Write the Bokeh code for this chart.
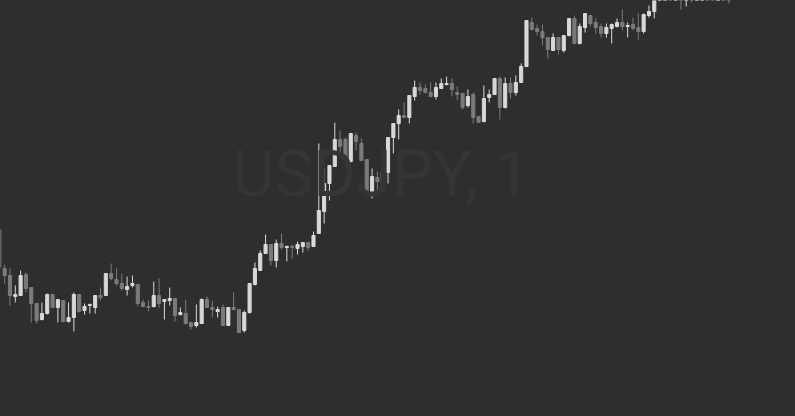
from bokeh.plotting import figure
from bokeh.models import Range1d, Label, ColumnDataSource
from bokeh.embed import file_html
from bokeh.resources import INLINE

# USDJPY 1-minute candles (prices)
open_ = [151.771, 151.732, 151.725, 151.704, 151.705, 151.726, 151.713, 151.697, 151.681, 151.687,
         151.706, 151.693, 151.700, 151.679, 151.683, 151.706, 151.690, 151.695, 151.693, 151.705,
         151.705, 151.727, 151.721, 151.717, 151.711, 151.715, 151.716, 151.698, 151.694, 151.694,
         151.705, 151.699, 151.700, 151.702, 151.686, 151.687, 151.678, 151.675, 151.677, 151.701,
         151.693, 151.689, 151.693, 151.675, 151.693, 151.691, 151.670, 151.688, 151.716, 151.730,
         151.747, 151.756, 151.740, 151.757, 151.753, 151.754, 151.752, 151.754, 151.758, 151.754,
         151.767, 151.789, 151.817, 151.834, 151.861, 151.861, 151.839, 151.865, 151.857, 151.841,
         151.808, 151.823, 151.818, 151.828, 151.863, 151.877, 151.885, 151.883, 151.904, 151.913,
         151.912, 151.908, 151.904, 151.912, 151.916, 151.917, 151.908, 151.907, 151.895, 151.906,
         151.884, 151.879, 151.903, 151.906, 151.922, 151.893, 151.917, 151.908, 151.918, 151.934,
         151.978, 151.972, 151.969, 151.963, 151.950, 151.963, 151.950, 151.965, 151.982, 151.957,
         151.973, 151.985, 151.978, 151.974, 151.967, 151.972, 151.974, 151.978, 151.974, 151.976,
         151.973, 151.969, 151.985, 151.989, 152.008, 152.020, 152.026, 152.018, 152.028, 152.014,
         152.022, 152.016, 152.030, 152.038, 152.030, 152.022, 152.026, 152.018]
high = [151.772, 151.736, 151.732, 151.715, 151.730, 151.728, 151.713, 151.697, 151.698, 151.707,
        151.707, 151.701, 151.700, 151.698, 151.708, 151.706, 151.697, 151.697, 151.705, 151.713,
        151.727, 151.737, 151.732, 151.727, 151.724, 151.725, 151.716, 151.701, 151.700, 151.719,
        151.722, 151.701, 151.713, 151.702, 151.693, 151.701, 151.678, 151.696, 151.702, 151.704,
        151.700, 151.694, 151.696, 151.693, 151.708, 151.691, 151.690, 151.717, 151.738, 151.750,
        151.766, 151.756, 151.761, 151.767, 151.755, 151.756, 151.759, 151.758, 151.758, 151.769,
        151.857, 151.833, 151.835, 151.878, 151.870, 151.863, 151.867, 151.868, 151.862, 151.841,
        151.832, 151.829, 151.843, 151.863, 151.877, 151.891, 151.898, 151.905, 151.920, 151.918,
        151.916, 151.918, 151.918, 151.922, 151.924, 151.922, 151.914, 151.907, 151.911, 151.908,
        151.884, 151.915, 151.911, 151.922, 151.924, 151.923, 151.923, 151.925, 151.937, 151.980,
        151.983, 151.976, 151.976, 151.963, 151.967, 151.963, 151.965, 151.982, 151.985, 151.977,
        151.987, 151.985, 151.982, 151.977, 151.977, 151.977, 151.982, 151.991, 151.978, 151.983,
        151.987, 151.987, 151.995, 152.012, 152.028, 152.034, 152.030, 152.034, 152.032, 152.030,
        152.026, 152.036, 152.044, 152.046, 152.036, 152.032, 152.030, 152.022]
low = [151.732, 151.717, 151.695, 151.698, 151.705, 151.708, 151.678, 151.677, 151.680, 151.686,
       151.693, 151.678, 151.678, 151.678, 151.669, 151.688, 151.686, 151.687, 151.687, 151.700,
       151.705, 151.720, 151.715, 151.710, 151.705, 151.713, 151.694, 151.693, 151.689, 151.693,
       151.693, 151.681, 151.695, 151.679, 151.685, 151.676, 151.671, 151.673, 151.677, 151.693,
       151.683, 151.683, 151.675, 151.675, 151.690, 151.668, 151.668, 151.687, 151.715, 151.730,
       151.747, 151.735, 151.733, 151.751, 151.739, 151.742, 151.746, 151.748, 151.750, 151.754,
       151.767, 151.777, 151.800, 151.834, 151.845, 151.840, 151.838, 151.850, 151.840, 151.808,
       151.802, 151.807, 151.813, 151.817, 151.847, 151.861, 151.883, 151.877, 151.900, 151.906,
       151.907, 151.903, 151.901, 151.912, 151.915, 151.904, 151.900, 151.891, 151.893, 151.877,
       151.878, 151.878, 151.898, 151.906, 151.881, 151.892, 151.902, 151.905, 151.918, 151.934,
       151.970, 151.965, 151.955, 151.942, 151.950, 151.946, 151.948, 151.964, 151.957, 151.956,
       151.968, 151.974, 151.967, 151.963, 151.963, 151.957, 151.973, 151.970, 151.963, 151.970,
       151.961, 151.967, 151.983, 151.982, 152.002, 152.012, 152.010, 152.008, 151.991, 151.994,
       151.998, 152.010, 152.024, 152.022, 152.014, 152.010, 152.008, 151.997]
close = [151.733, 151.725, 151.705, 151.706, 151.725, 151.712, 151.697, 151.680, 151.687, 151.706,
         151.693, 151.701, 151.679, 151.683, 151.706, 151.689, 151.694, 151.696, 151.705, 151.703,
         151.727, 151.722, 151.717, 151.712, 151.714, 151.717, 151.697, 151.694, 151.693, 151.705,
         151.697, 151.701, 151.702, 151.685, 151.688, 151.677, 151.674, 151.678, 151.701, 151.693,
         151.691, 151.691, 151.675, 151.693, 151.691, 151.668, 151.688, 151.717, 151.732, 151.747,
         151.756, 151.740, 151.757, 151.753, 151.754, 151.753, 151.756, 151.758, 151.753, 151.765,
         151.790, 151.817, 151.835, 151.861, 151.854, 151.841, 151.867, 151.859, 151.840, 151.808,
         151.824, 151.819, 151.828, 151.863, 151.877, 151.885, 151.883, 151.905, 151.913, 151.910,
         151.908, 151.904, 151.913, 151.917, 151.917, 151.911, 151.906, 151.893, 151.904, 151.883,
         151.878, 151.902, 151.906, 151.922, 151.893, 151.917, 151.908, 151.918, 151.934, 151.980,
         151.971, 151.969, 151.963, 151.951, 151.963, 151.951, 151.965, 151.982, 151.957, 151.974,
         151.987, 151.977, 151.973, 151.967, 151.973, 151.976, 151.978, 151.974, 151.975, 151.972,
         151.969, 151.986, 151.989, 152.008, 152.020, 152.026, 152.018, 152.028, 152.014, 152.022,
         152.016, 152.030, 152.038, 152.030, 152.022, 152.026, 152.018, 152.012]

symbol = "USDJPY, 1"

n = len(open_)
idx = list(range(n))
up = [c >= o for o, c in zip(open_, close)]
UP_COL = "#d9d9d9"
DN_COL = "#7b7b7b"
BG = "#2e2e2e"


def subset(flag):
    keep = [i for i in idx if up[i] == flag]
    return ColumnDataSource(dict(
        x=keep,
        o=[open_[i] for i in keep],
        c=[close[i] for i in keep],
        h=[high[i] for i in keep],
        l=[low[i] for i in keep],
    ))


p = figure(width=795, height=416, output_backend="svg", toolbar_location=None,
           x_range=Range1d(0.22, 149.52), y_range=Range1d(151.584, 152.000),
           min_border=0, background_fill_color=BG, border_fill_color=BG,
           outline_line_color=None)
p.xaxis.visible = False
p.yaxis.visible = False
p.grid.visible = False

wm = Label(x=381, y=243, x_units="screen", y_units="screen", text=symbol,
           text_font="Roboto", text_font_size="65px", text_color="#353535",
           text_align="center", text_baseline="alphabetic")
p.add_layout(wm)

for flag, col in ((True, UP_COL), (False, DN_COL)):
    src = subset(flag)
    p.segment(x0="x", y0="h", x1="x", y1="l", source=src, line_color=col, line_width=1)
    p.vbar(x="x", top="o", bottom="c", width=0.58, source=src,
           fill_color=col, line_color=col, line_width=1)

html = file_html(p, INLINE)
html = html.replace("</head>",
                    "<style>html,body{margin:0;padding:0;background:#2e2e2e;overflow:hidden}</style></head>", 1)
open("out.html", "w").write(html)
